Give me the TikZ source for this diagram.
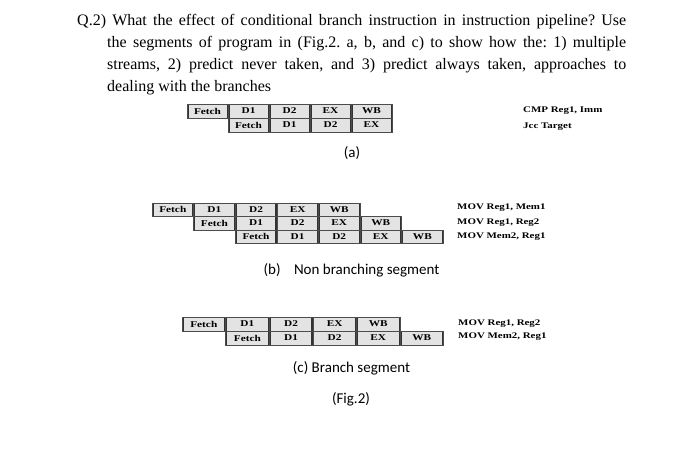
\documentclass[tikz,border=0pt]{standalone}
\usepackage{fontspec}
\setmainfont{Liberation Serif}
\newfontfamily\capfont{Carlito}
\usepackage{graphicx}
\frenchspacing
\newcommand{\stx}[1]{\scalebox{1.27}[1]{#1}}
\tikzset{
  cell/.style={rectangle, draw=black!70, line width=0.5pt, fill=black!11,
    minimum height=14pt, inner sep=0pt,
    font=\fontsize{8.9}{9}\selectfont\bfseries,
    path picture={\draw[black!80, line width=3pt]
      (path picture bounding box.north west) -- (path picture bounding box.south west)
      (path picture bounding box.north east) -- (path picture bounding box.south east);}},
  instr/.style={anchor=west, inner sep=0pt, font=\fontsize{8.6}{9}\selectfont\bfseries},
  caption/.style={inner sep=0pt, font=\capfont\fontsize{15}{18}\selectfont},
  qline/.style={anchor=base west, inner sep=0pt, font=\fontsize{16}{22}\selectfont}
}
\begin{document}
\begin{tikzpicture}[x=1pt, y=-1pt]
\fill[white] (0,0) rectangle (700,471);
\useasboundingbox (0,0) rectangle (700,471);

\node[qline] (q1) at (77,25) {\makebox[549pt][s]{Q.2) What the effect of conditional branch instruction in instruction pipeline? Use}};
\node[qline] (q2) at (107,47) {\makebox[519pt][s]{the segments of program in (Fig.2. a, b, and c) to show how the: 1) multiple}};
\node[qline] (q3) at (107,69) {\makebox[519pt][s]{streams, 2) predict never taken, and 3) predict always taken, approaches to}};
\node[qline] (q4) at (107,91) {dealing with the branches};

% (a)
\foreach \t [count=\i from 0] in {Fetch,D1,D2,EX,WB}
  \node[cell, minimum width=41pt] (a1\i) at (187+41*\i+20.5, 111) {\stx{\t}};
\foreach \t [count=\i from 0] in {Fetch,D1,D2,EX}
  \node[cell, minimum width=41pt] (a2\i) at (228+41*\i+20.5, 125) {\stx{\t}};
\node[instr] (ai1) at (523,111) {\stx{CMP Reg1, Imm}};
\node[instr] (ai2) at (523,127) {\stx{Jcc Target}};
\node[caption] (capa) at (352,153) {(a)};

% (b)
\foreach \t [count=\i from 0] in {Fetch,D1,D2,EX,WB}
  \node[cell, minimum width=41.6pt, minimum height=13.5pt] (b1\i) at (152+41.6*\i+20.8, 209.5) {\stx{\t}};
\foreach \t [count=\i from 0] in {Fetch,D1,D2,EX,WB}
  \node[cell, minimum width=41.6pt, minimum height=13.5pt] (b2\i) at (193.6+41.6*\i+20.8, 223) {\stx{\t}};
\foreach \t [count=\i from 0] in {Fetch,D1,D2,EX,WB}
  \node[cell, minimum width=41.6pt, minimum height=13.5pt] (b3\i) at (235.2+41.6*\i+20.8, 236.5) {\stx{\t}};
\node[instr] (bi1) at (457,208) {\stx{MOV Reg1, Mem1}};
\node[instr] (bi2) at (457,223) {\stx{MOV Reg1, Reg2}};
\node[instr] (bi3) at (457,237) {\stx{MOV Mem2, Reg1}};
\node[caption] (capb) at (351.5,270) {(b)\hspace{0.9em}Non branching segment};

% (c)
\foreach \t [count=\i from 0] in {Fetch,D1,D2,EX,WB}
  \node[cell, minimum width=43.6pt] (c1\i) at (182+43.6*\i+21.8, 324) {\stx{\t}};
\foreach \t [count=\i from 0] in {Fetch,D1,D2,EX,WB}
  \node[cell, minimum width=43.6pt] (c2\i) at (225.6+43.6*\i+21.8, 338) {\stx{\t}};
\node[instr] (ci1) at (458,324) {\stx{MOV Reg1, Reg2}};
\node[instr] (ci2) at (458,337) {\stx{MOV Mem2, Reg1}};
\node[caption] (capc) at (351.5,368) {(c) Branch segment};
\node[caption] (capf) at (351,399) {(Fig.2)};
\end{tikzpicture}
\end{document}
